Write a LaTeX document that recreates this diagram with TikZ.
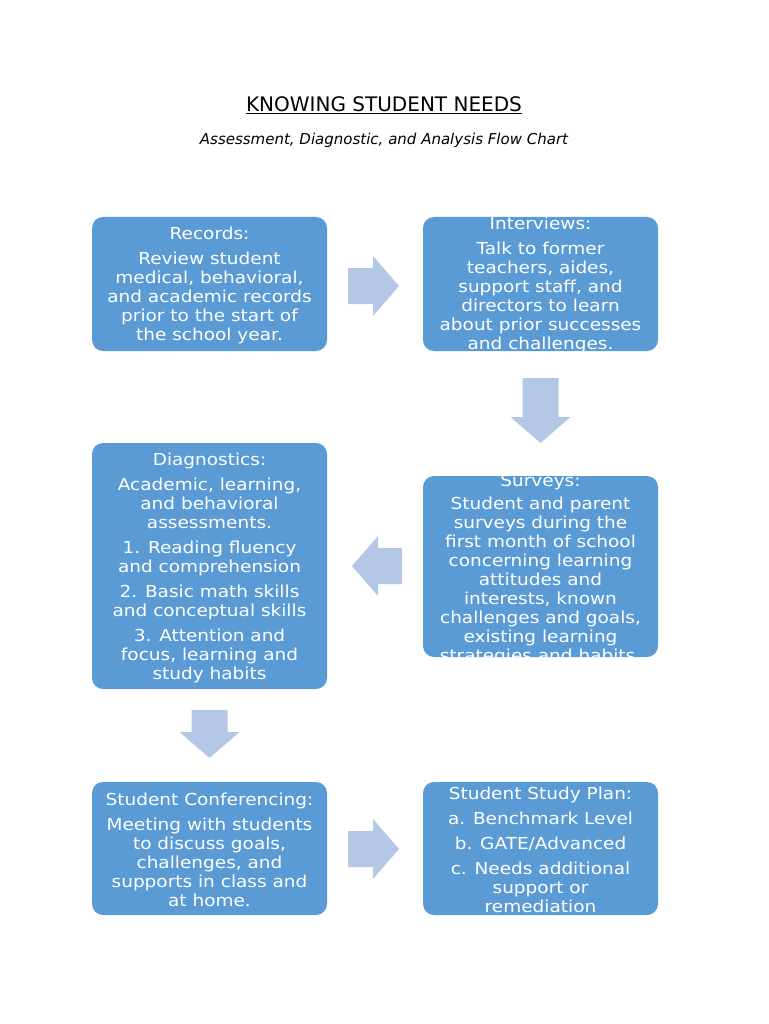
\documentclass[tikz,border=0pt]{standalone}
\usepackage{fontspec}
\setmainfont{DejaVu Sans}
\newfontfamily\cardfont{DejaVu Sans}[FakeStretch=1.12]
\usepackage{tikz}
\definecolor{cardblue}{RGB}{91,155,213}
\definecolor{arrowblue}{RGB}{180,199,231}

\tikzset{
  card/.style={fill=cardblue, draw=none, rounded corners=11pt, minimum width=235pt, inner sep=0pt},
  cardtext/.style={text=white, align=center, inner sep=0pt, font=\cardfont\fontsize{16.5}{19}\selectfont},
  pics/blockarrow/.style={code={
    \fill[arrowblue] (-#1/2,-18) -- ({#1/2-26},-18) -- ({#1/2-26},-30) -- ({#1/2},0)
      -- ({#1/2-26},30) -- ({#1/2-26},18) -- (-#1/2,18) -- cycle;
  }},
}

\begin{document}
\begin{tikzpicture}[x=1pt, y=-1pt]
\useasboundingbox (0,0) rectangle (768,1024);
\node[anchor=base, font=\fontsize{20}{24}\selectfont] (title) at (384,112) {\underline{KNOWING STUDENT NEEDS}};
\node[anchor=base, font=\itshape\fontsize{15}{18}\selectfont] (subtitle) at (384,144.5) {Assessment, Diagnostic, and Analysis Flow Chart};
% boxes
\node[card, minimum height=134pt] (rec) at (209.5,284) {};
\node[card, minimum height=134pt] (int) at (540.5,284) {};
\node[card, minimum height=246pt] (dia) at (209.5,566) {};
\node[card, minimum height=181pt] (sur) at (540.5,566.5) {};
\node[card, minimum height=133pt] (con) at (209.5,848.5) {};
\node[card, minimum height=133pt] (plan) at (540.5,848.5) {};
% box texts
\node[cardtext] (rec-t) at (209.5,285) {Records:\\[6pt] Review student\\ medical, behavioral,\\ and academic records\\ prior to the start of\\ the school year.};
\node[cardtext] (int-t) at (540.5,285) {Interviews:\\[6pt] Talk to former\\ teachers, aides,\\ support staff, and\\ directors to learn\\ about prior successes\\ and challenges.};
\node[cardtext] (dia-t) at (209.5,567.5) {Diagnostics:\\[6pt] Academic, learning,\\ and behavioral\\ assessments.\\[6pt] 1. Reading fluency\\ and comprehension\\[6pt] 2. Basic math skills\\ and conceptual skills\\[6pt] 3. Attention and\\ focus, learning and\\ study habits};
\node[cardtext] (sur-t) at (540.5,569.5) {Surveys:\\[4pt] Student and parent\\ surveys during the\\ first month of school\\ concerning learning\\ attitudes and\\ interests, known\\ challenges and goals,\\ existing learning\\ strategies and habits.};
\node[cardtext] (con-t) at (209.5,849.5) {Student Conferencing:\\[6pt] Meeting with students\\ to discuss goals,\\ challenges, and\\ supports in class and\\ at home.};
\node[cardtext] (plan-t) at (540.5,849.5) {Student Study Plan:\\[6pt] a. Benchmark Level\\[6pt] b. GATE/Advanced\\[6pt] c. Needs additional\\ support or\\ remediation};
% arrows
\pic (a1) at (373.5,286) {blockarrow=51};
\pic[rotate=-90] (a2) at (540.5,410.5) {blockarrow=65};
\pic[rotate=180] (a3) at (377,566) {blockarrow=50};
\pic[rotate=-90] (a4) at (209.5,734) {blockarrow=48};
\pic (a5) at (373.5,849) {blockarrow=51};
\end{tikzpicture}
\end{document}
